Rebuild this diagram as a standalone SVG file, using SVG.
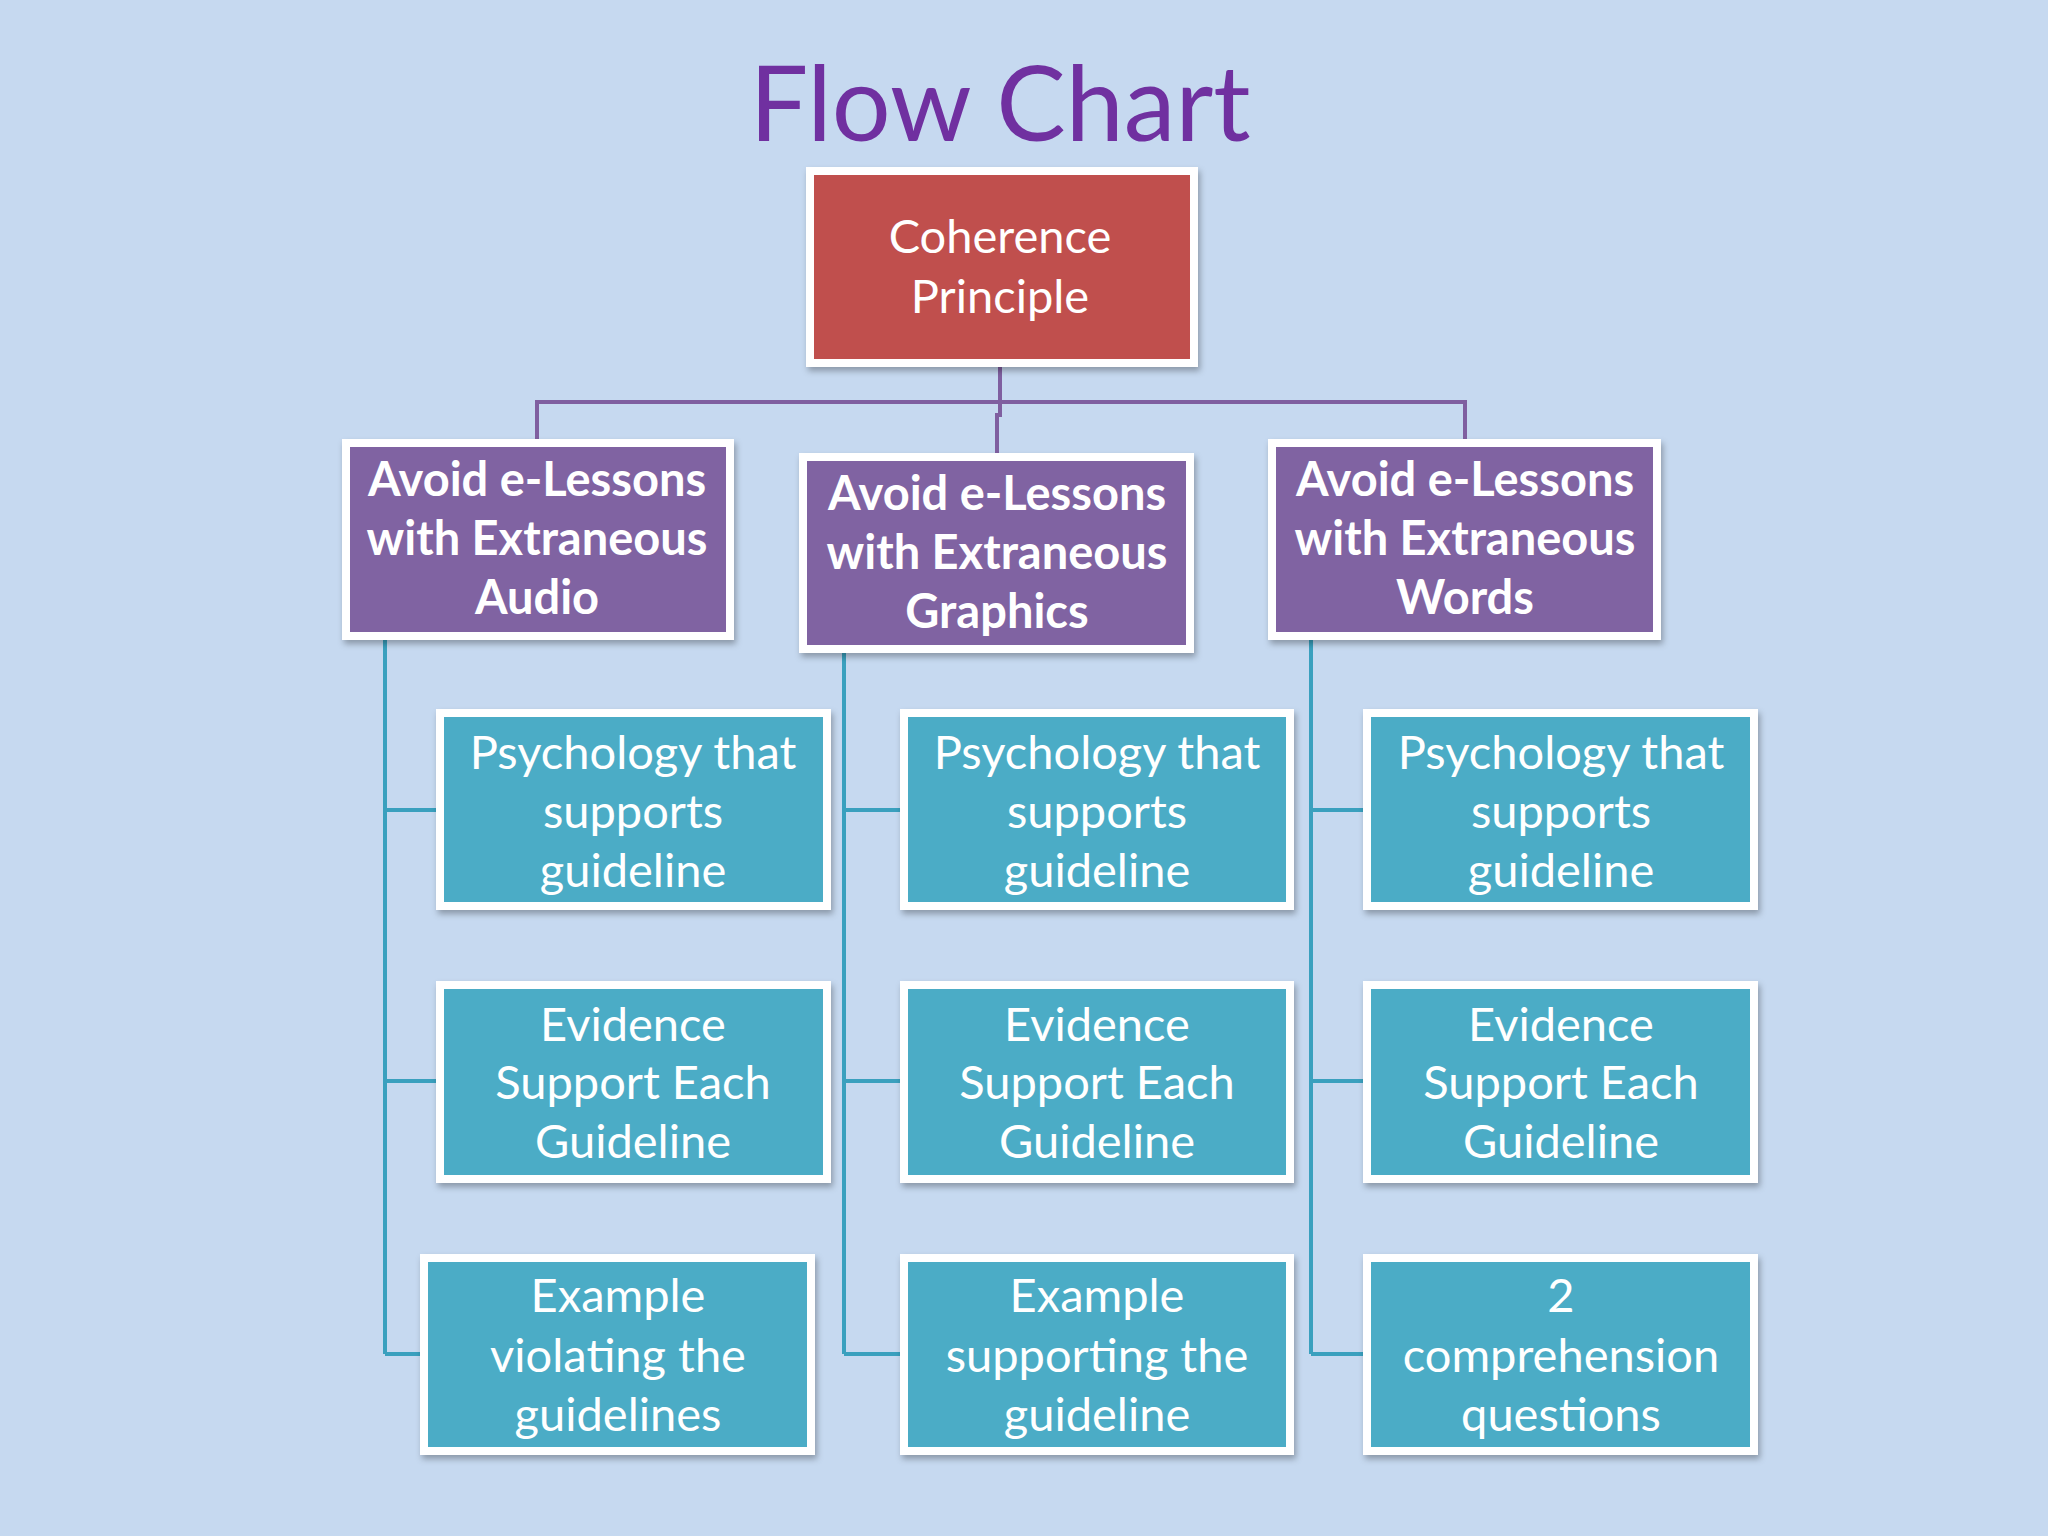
<svg xmlns="http://www.w3.org/2000/svg" width="2048" height="1536" viewBox="0 0 2048 1536">
<defs>
<filter id="sh" x="-10%" y="-10%" width="120%" height="130%"><feDropShadow dx="2" dy="4" stdDeviation="3" flood-color="#000" flood-opacity="0.3"/></filter>
</defs>
<style>
.box{stroke:#fff;stroke-width:8;filter:url(#sh)}
.root{fill:#c0504d}
.mid{fill:#8064a2}
.leaf{fill:#4bacc6}
text{font-family:Lato,"Open Sans",sans-serif;font-size:47px;fill:#fff;text-anchor:middle;dominant-baseline:central}
.b{font-weight:bold}
.pc{stroke:#7f5fa0;stroke-width:4;fill:none}
.tc{stroke:#3aa0be;stroke-width:4;fill:none}
</style>
<rect width="2048" height="1536" fill="#c6d9f0"/>
<text x="1000" y="100" style="font-size:104px;fill:#7030a0">Flow Chart</text>
<g id="connectors">
<path class="pc" d="M1000 363V402M537 443V402H1465V443M1000 402V415H997V457"/>
<path class="tc" d="M385 636V1354M385 810H440M385 1081H440M385 1354H424"/>
<path class="tc" d="M844 649V1354M844 810H904M844 1081H904M844 1354H904"/>
<path class="tc" d="M1311 636V1354M1311 810H1367M1311 1081H1367M1311 1354H1367"/>
</g>
<g id="root"><rect class="box root" x="810" y="171" width="384" height="192"/><text x="1000" y="235">Coherence</text><text x="1000" y="295">Principle</text></g>
<g id="audio"><rect class="box mid" x="346" y="443" width="384" height="193"/><text class="b" x="537" y="478">Avoid e-Lessons</text><text class="b" x="537" y="537">with Extraneous</text><text class="b" x="537" y="596">Audio</text></g>
<g id="graphics"><rect class="box mid" x="803" y="457" width="387" height="192"/><text class="b" x="997" y="492">Avoid e-Lessons</text><text class="b" x="997" y="551">with Extraneous</text><text class="b" x="997" y="610">Graphics</text></g>
<g id="words"><rect class="box mid" x="1272" y="443" width="385" height="193"/><text class="b" x="1465" y="478">Avoid e-Lessons</text><text class="b" x="1465" y="537">with Extraneous</text><text class="b" x="1465" y="596">Words</text></g>
<g id="a1"><rect class="box leaf" x="440" y="713" width="387" height="193"/><text x="633" y="751">Psychology that</text><text x="633" y="810">supports</text><text x="633" y="869">guideline</text></g>
<g id="a2"><rect class="box leaf" x="440" y="985" width="387" height="194"/><text x="633" y="1023">Evidence</text><text x="633" y="1081">Support Each</text><text x="633" y="1140">Guideline</text></g>
<g id="a3"><rect class="box leaf" x="424" y="1258" width="387" height="193"/><text x="618" y="1294">Example</text><text x="618" y="1354">violating the</text><text x="618" y="1413">guidelines</text></g>
<g id="g1"><rect class="box leaf" x="904" y="713" width="386" height="193"/><text x="1097" y="751">Psychology that</text><text x="1097" y="810">supports</text><text x="1097" y="869">guideline</text></g>
<g id="g2"><rect class="box leaf" x="904" y="985" width="386" height="194"/><text x="1097" y="1023">Evidence</text><text x="1097" y="1081">Support Each</text><text x="1097" y="1140">Guideline</text></g>
<g id="g3"><rect class="box leaf" x="904" y="1258" width="386" height="193"/><text x="1097" y="1294">Example</text><text x="1097" y="1354">supporting the</text><text x="1097" y="1413">guideline</text></g>
<g id="w1"><rect class="box leaf" x="1367" y="713" width="387" height="193"/><text x="1561" y="751">Psychology that</text><text x="1561" y="810">supports</text><text x="1561" y="869">guideline</text></g>
<g id="w2"><rect class="box leaf" x="1367" y="985" width="387" height="194"/><text x="1561" y="1023">Evidence</text><text x="1561" y="1081">Support Each</text><text x="1561" y="1140">Guideline</text></g>
<g id="w3"><rect class="box leaf" x="1367" y="1258" width="387" height="193"/><text x="1561" y="1294">2</text><text x="1561" y="1354">comprehension</text><text x="1561" y="1413">questions</text></g>
</svg>
